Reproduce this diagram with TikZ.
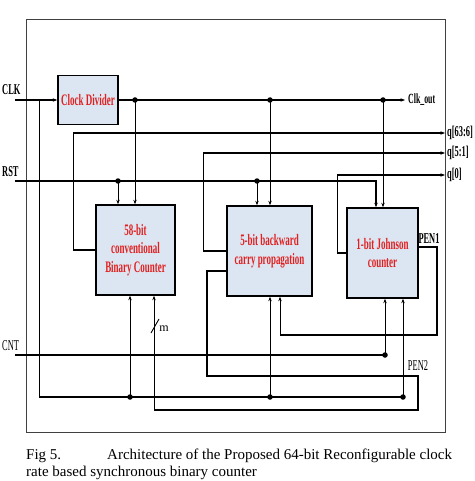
\documentclass[tikz,border=0pt]{standalone}
\usepackage{fontspec}
\setmainfont{Liberation Serif}
\newfontfamily\narrowfont[FakeStretch=0.56]{Liberation Serif}
\usetikzlibrary{arrows.meta}
\definecolor{boxblue}{HTML}{DCE6F2}
\definecolor{boxred}{HTML}{E02020}

\begin{document}
\begin{tikzpicture}[x=1pt, y=-1pt, >={Stealth[length=4.5pt, width=3.4pt]},
    block/.style={draw, line width=1.5pt, fill=boxblue, text=boxred, align=center,
      inner sep=0pt, font=\narrowfont\bfseries\fontsize{16}{18.5}\selectfont},
    wire/.style={line width=1.4pt},
    tap/.style={line width=0.9pt},
    sig/.style={font=\narrowfont\bfseries\fontsize{15}{16}\selectfont, inner sep=0pt},
    sigl/.style={font=\narrowfont\fontsize{15}{16}\selectfont, inner sep=0pt},
    jdot/.style={circle, fill, inner sep=0pt, minimum size=5.5pt},
    capt/.style={font=\fontsize{15}{17}\selectfont, inner sep=0pt, anchor=base west}]

    \useasboundingbox (0,0) rectangle (474,481);

    % frame
    \draw[line width=1pt, black!75] (26,20) rectangle (445,432);

    % blocks
    \node[block, minimum width=60, minimum height=49] (clkdiv) at (88,100) {Clock Divider};
    \node[block, minimum width=79, minimum height=90] (b58) at (135.5,250)
      {58-bit\\conventional\\Binary Counter};
    \node[block, minimum width=85, minimum height=90] (b5) at (269.5,251)
      {5-bit backward\\carry propagation};
    \node[block, minimum width=71, minimum height=90] (bjc) at (382.5,253)
      {1-bit Johnson\\counter};

    % inputs
    \node[sig, anchor=south west] (clk) at (2,95) {CLK};
    \coordinate (clkin) at (15,100);
    \node[sig, anchor=south west] (rst) at (2,177) {RST};
    \coordinate (rstin) at (15,181);
    \node[sigl, anchor=south west] (cnt) at (2,351) {CNT};
    \coordinate (cntin) at (15,355);

    % clock
    \node[jdot] (ck1) at (135,100) {};
    \node[jdot] (ck2) at (270,100) {};
    \node[jdot] (ck3) at (383,100) {};
    \coordinate (clkend) at (405,100);
    \node[sig, anchor=west, font=\narrowfont\bfseries\fontsize{14}{16}\selectfont]
      (clkout) at (408,100) {Clk\_out};
    \draw[wire,->] (clkin) -- (clkdiv.west);
    \draw[wire,->] (clkdiv.east) -- (clkend);
    \foreach \c/\b in {ck1/b58, ck2/b5, ck3/bjc}
      \draw[tap,->] (\c.center) -- (\c |- \b.north);

    % reset
    \node[jdot] (rs1) at (118,181) {};
    \node[jdot] (rs2) at (257,181) {};
    \coordinate (rsj) at (376,181);
    \draw[wire,->] (rstin) -- (rsj) -- (rsj |- bjc.north);
    \draw[tap,->] (rs1.center) -- (rs1 |- b58.north);
    \draw[tap,->] (rs2.center) -- (rs2 |- b5.north);

    % clock bus at the bottom
    \coordinate (ckt) at (39,100);
    \node[jdot] (en1) at (130,397) {};
    \node[jdot] (en2) at (270,397) {};
    \node[jdot] (en3) at (403,397) {};
    \draw[tap] (ckt) -- (ckt |- en1);
    \draw[wire] (ckt |- en1) -- (en3.center);
    \foreach \c/\b in {en1/b58, en2/b5, en3/bjc}
      \draw[tap,->] (\c.center) -- (\c |- \b.south);

    % outputs
    \coordinate (q1) at (445,133);
    \coordinate (q2) at (445,153);
    \coordinate (q3) at (445,175);
    \node[sig, anchor=west] (q1t) at (447,133) {q[63:6]};
    \node[sig, anchor=west] (q2t) at (447,153) {q[5:1]};
    \node[sig, anchor=west] (q3t) at (447,175) {q[0]};
    \draw[wire,->] (b58.west) -- ++(-22,0) |- (q1);
    \draw[wire,->] (b5.west) -- ++(-23,0) |- (q2);
    \draw[wire,->] (bjc.west) -- ++(-9,0) |- (q3);

    % count enable
    \node[jdot] (cn1) at (385,355) {};
    \draw[wire] (cntin) -- (cn1.center);
    \draw[tap,->] (cn1.center) -- (cn1 |- bjc.south);

    % PEN1
    \coordinate (p1a) at (437,247);
    \coordinate (p1b) at (280,335);
    \draw[wire] ([yshift=6pt]bjc.east) -- (p1a) |- (p1b);
    \draw[tap,->] (p1b) -- (p1b |- b5.south);
    \node[sig] (pen1) at (429,239) {PEN1};

    % PEN2
    \coordinate (p2a) at (207,271);
    \coordinate (p2b) at (418,376);
    \coordinate (p2c) at (154,410);
    \draw[wire] ([yshift=-20pt]b5.west) -- (p2a) |- (p2b) |- (p2c);
    \draw[tap,->] (p2c) -- (p2c |- b58.south);
    \draw[tap] (151,333) -- (159,319);
    \node[sigl, font=\fontsize{12}{13}\selectfont] (mw) at (164,329) {m};
    \node[sigl] (pen2) at (418,366) {PEN2};

    % caption
    \node[capt] (fig) at (26,459) {Fig 5.};
    \node[capt] (cap1) at (107,459) {Architecture of the Proposed 64-bit Reconfigurable clock};
    \node[capt] (cap2) at (26,476) {rate based synchronous binary counter};
\end{tikzpicture}
\end{document}
